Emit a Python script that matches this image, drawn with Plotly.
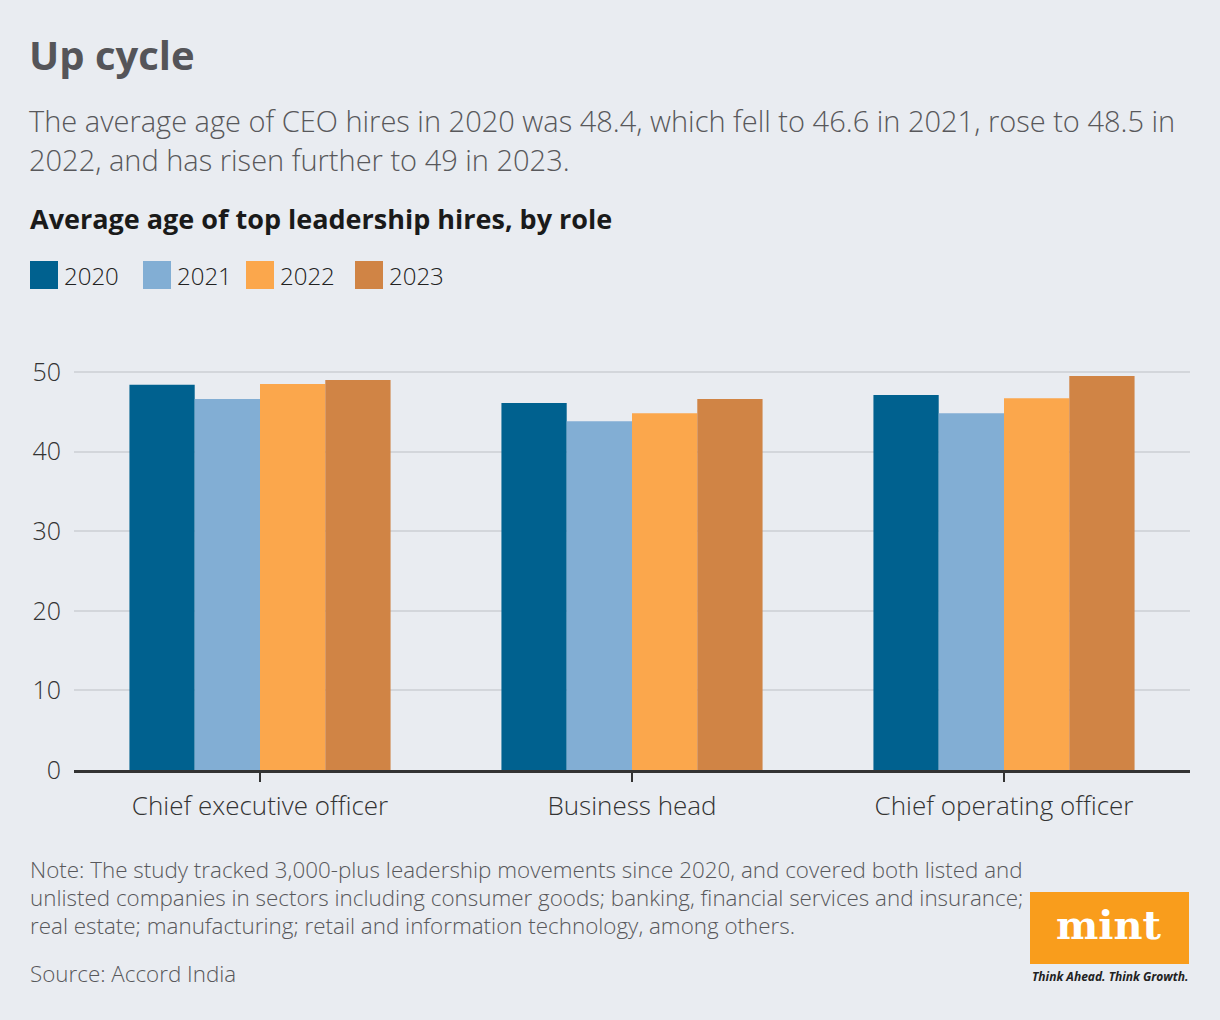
import plotly.graph_objects as go

categories = ["Chief executive officer", "Business head", "Chief operating officer"]
years = ["2020", "2021", "2022", "2023"]
values_2020 = [48.4, 46.1, 47.1]
values_2021 = [46.6, 43.8, 44.8]
values_2022 = [48.5, 44.8, 46.7]
values_2023 = [49.0, 46.6, 49.5]
y_ticks = [0, 10, 20, 30, 40, 50]

series = [values_2020, values_2021, values_2022, values_2023]
colors = ["#00618f", "#82aed4", "#fba74c", "#d08445"]

BG = "#e9ecf1"
FONT = "Open Sans"

fig = go.Figure()
for yr, vals, col in zip(years, series, colors):
    fig.add_trace(go.Bar(x=categories, y=vals, name=yr, marker=dict(color=col, line=dict(width=0)),
                         showlegend=False, hoverinfo="x+y+name"))

W, H = 1220, 1020
ML, MR, MT, MB = 74, 30, 364, 250
PW, PH = W - ML - MR, H - MT - MB


def px(x):
    return (x - ML) / PW


def py(y):
    return (H - MB - y) / PH


annotations = []
shapes = []


def text(t, x, y, size, color, weight=None, anchor="left", family=FONT):
    f = dict(family=family, size=size, color=color)
    if weight:
        f["weight"] = weight
    annotations.append(dict(text=t, x=px(x), y=py(y), xref="paper", yref="paper",
                            xanchor=anchor, yanchor="middle", showarrow=False, font=f))


# Titles
text("<b>Up cycle</b>", 27, 54, 40, "#555559")
text("The average age of CEO hires in 2020 was 48.4, which fell to 46.6 in 2021, rose to 48.5 in",
     27, 120, 29, "#58585b", 300)
text("2022, and has risen further to 49 in 2023.", 27, 160, 29, "#58585b", 300)
text("<b>Average age of top leadership hires, by role</b>", 28, 218, 27, "#1a1a1a")

# Legend
legend_x = [30, 143, 246, 355]
for lx, yr, col in zip(legend_x, years, colors):
    shapes.append(dict(type="rect", xref="paper", yref="paper", x0=px(lx), x1=px(lx + 28),
                       y0=py(289), y1=py(261), fillcolor=col, line=dict(width=0)))
    text(yr, lx + 32, 275, 24, "#222222", 300)

# Note
note_lines = [
    "Note: The study tracked 3,000-plus leadership movements since 2020, and covered both listed and",
    "unlisted companies in sectors including consumer goods; banking, financial services and insurance;",
    "real estate; manufacturing; retail and information technology, among others.",
]
for i, line in enumerate(note_lines):
    text(line, 28, 869 + 28 * i, 22.4, "#58585b", 300)
text("Source: Accord India", 28, 973, 22.4, "#58585b", 300)

# mint logo
shapes.append(dict(type="rect", xref="paper", yref="paper", x0=px(1030), x1=px(1189),
                   y0=py(964), y1=py(892), fillcolor="#f99d1c", line=dict(width=0)))
text("<b>mint</b>", 1109, 924, 40, "#ffffff", anchor="center", family="DejaVu Serif")
text("<b><i>Think Ahead. Think Growth.</i></b>", 1110, 976, 12, "#222222", anchor="center")

fig.update_layout(
    width=W, height=H,
    paper_bgcolor=BG, plot_bgcolor=BG,
    margin=dict(l=ML, r=MR, t=MT, b=MB, pad=0),
    barmode="group", bargap=0.298, bargroupgap=0,
    showlegend=False,
    font=dict(family=FONT, color="#333333"),
    annotations=annotations, shapes=shapes,
    xaxis=dict(showgrid=False, showline=True, linecolor="#333333", linewidth=3,
               ticks="outside", ticklen=9, tickwidth=2, tickcolor="#333333",
               tickfont=dict(family=FONT, size=26, color="#333333", weight=300),
               ticklabelstandoff=2, range=[-0.5, 2.5], fixedrange=True),
    yaxis=dict(range=[0, 51], tickvals=y_ticks, showgrid=True, gridcolor="#d3d6db", gridwidth=2,
               zeroline=False, showline=False, ticks="",
               tickfont=dict(family=FONT, size=25, color="#333333", weight=300),
               ticklabelstandoff=12, fixedrange=True),
)

fig.write_html("out.html", config={"displayModeBar": False},
               post_script="document.body.style.margin='0';document.body.style.padding='0';")
